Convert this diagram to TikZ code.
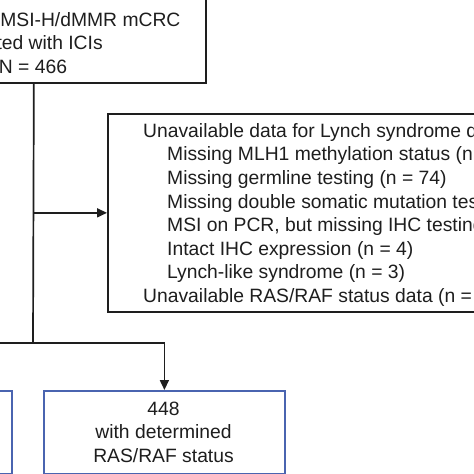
\documentclass[tikz,border=0pt]{standalone}
\usepackage{fontspec}
\setmainfont{Liberation Sans}
\usetikzlibrary{arrows.meta}
\definecolor{bx}{HTML}{4A64B0}
\definecolor{ln}{HTML}{1E1E1E}
\begin{document}
\begin{tikzpicture}[x=1pt,y=-1pt,
  blackbox/.style={draw=ln,line width=1.7pt,inner sep=0pt,anchor=north west},
  bluebox/.style={draw=bx,line width=1.8pt,inner sep=0pt,anchor=north west},
  txt/.style={inner sep=0pt,font=\fontsize{19.3}{23.6}\selectfont,text=ln},
  conn/.style={draw=ln,line width=1.7pt},
  arr/.style={conn,-{Triangle[length=10pt,width=9pt]}}]
\useasboundingbox (0,0) rectangle (474,474);
\clip (0,0) rectangle (474,474);
\fill[white] (0,0) rectangle (474,474);
% top box
\node[blackbox,minimum width=344pt,minimum height=85pt] (tb) at (-139,-3) {};
\node[txt,align=center,anchor=north] (tt) at (33,9.5)
  {\strut Patients with MSI-H/dMMR mCRC\\treated with ICIs\\N = 466};
% exclusion box
\node[blackbox,minimum width=640pt,minimum height=198pt] (b2) at (107,113) {};
\node[txt,align=left,anchor=north west] (t2) at (143,120.5)
  {\strut Unavailable data for Lynch syndrome diagnosis (n = 92)\\
   \hspace*{24pt}Missing MLH1 methylation status (n = 8)\\
   \hspace*{24pt}Missing germline testing (n = 74)\\
   \hspace*{24pt}Missing double somatic mutation testing (n = 3)\\
   \hspace*{24pt}MSI on PCR, but missing IHC testing (n = 1)\\
   \hspace*{24pt}Intact IHC expression (n = 4)\\
   \hspace*{24pt}Lynch-like syndrome (n = 3)\\
   Unavailable RAS/RAF status data (n = 18)};
% bottom boxes
\node[bluebox,minimum width=241pt,minimum height=83pt] (b3) at (43,390) {};
\node[txt,align=center,anchor=north] (t3) at (163.5,398.5)
  {\strut 448\\with determined\\RAS/RAF status};
\node[bluebox,minimum width=241pt,minimum height=83pt] (b4) at (-230,390) {};
% connectors
\coordinate (j) at (33,343);
\draw[conn] (tb.south) -- (j);
\draw[arr] (tb.south |- b2.west) -- (b2.west);
\draw[arr] (j) -| (b3.north);
\draw[arr] (j) -| (b4.north);
\end{tikzpicture}
\end{document}
